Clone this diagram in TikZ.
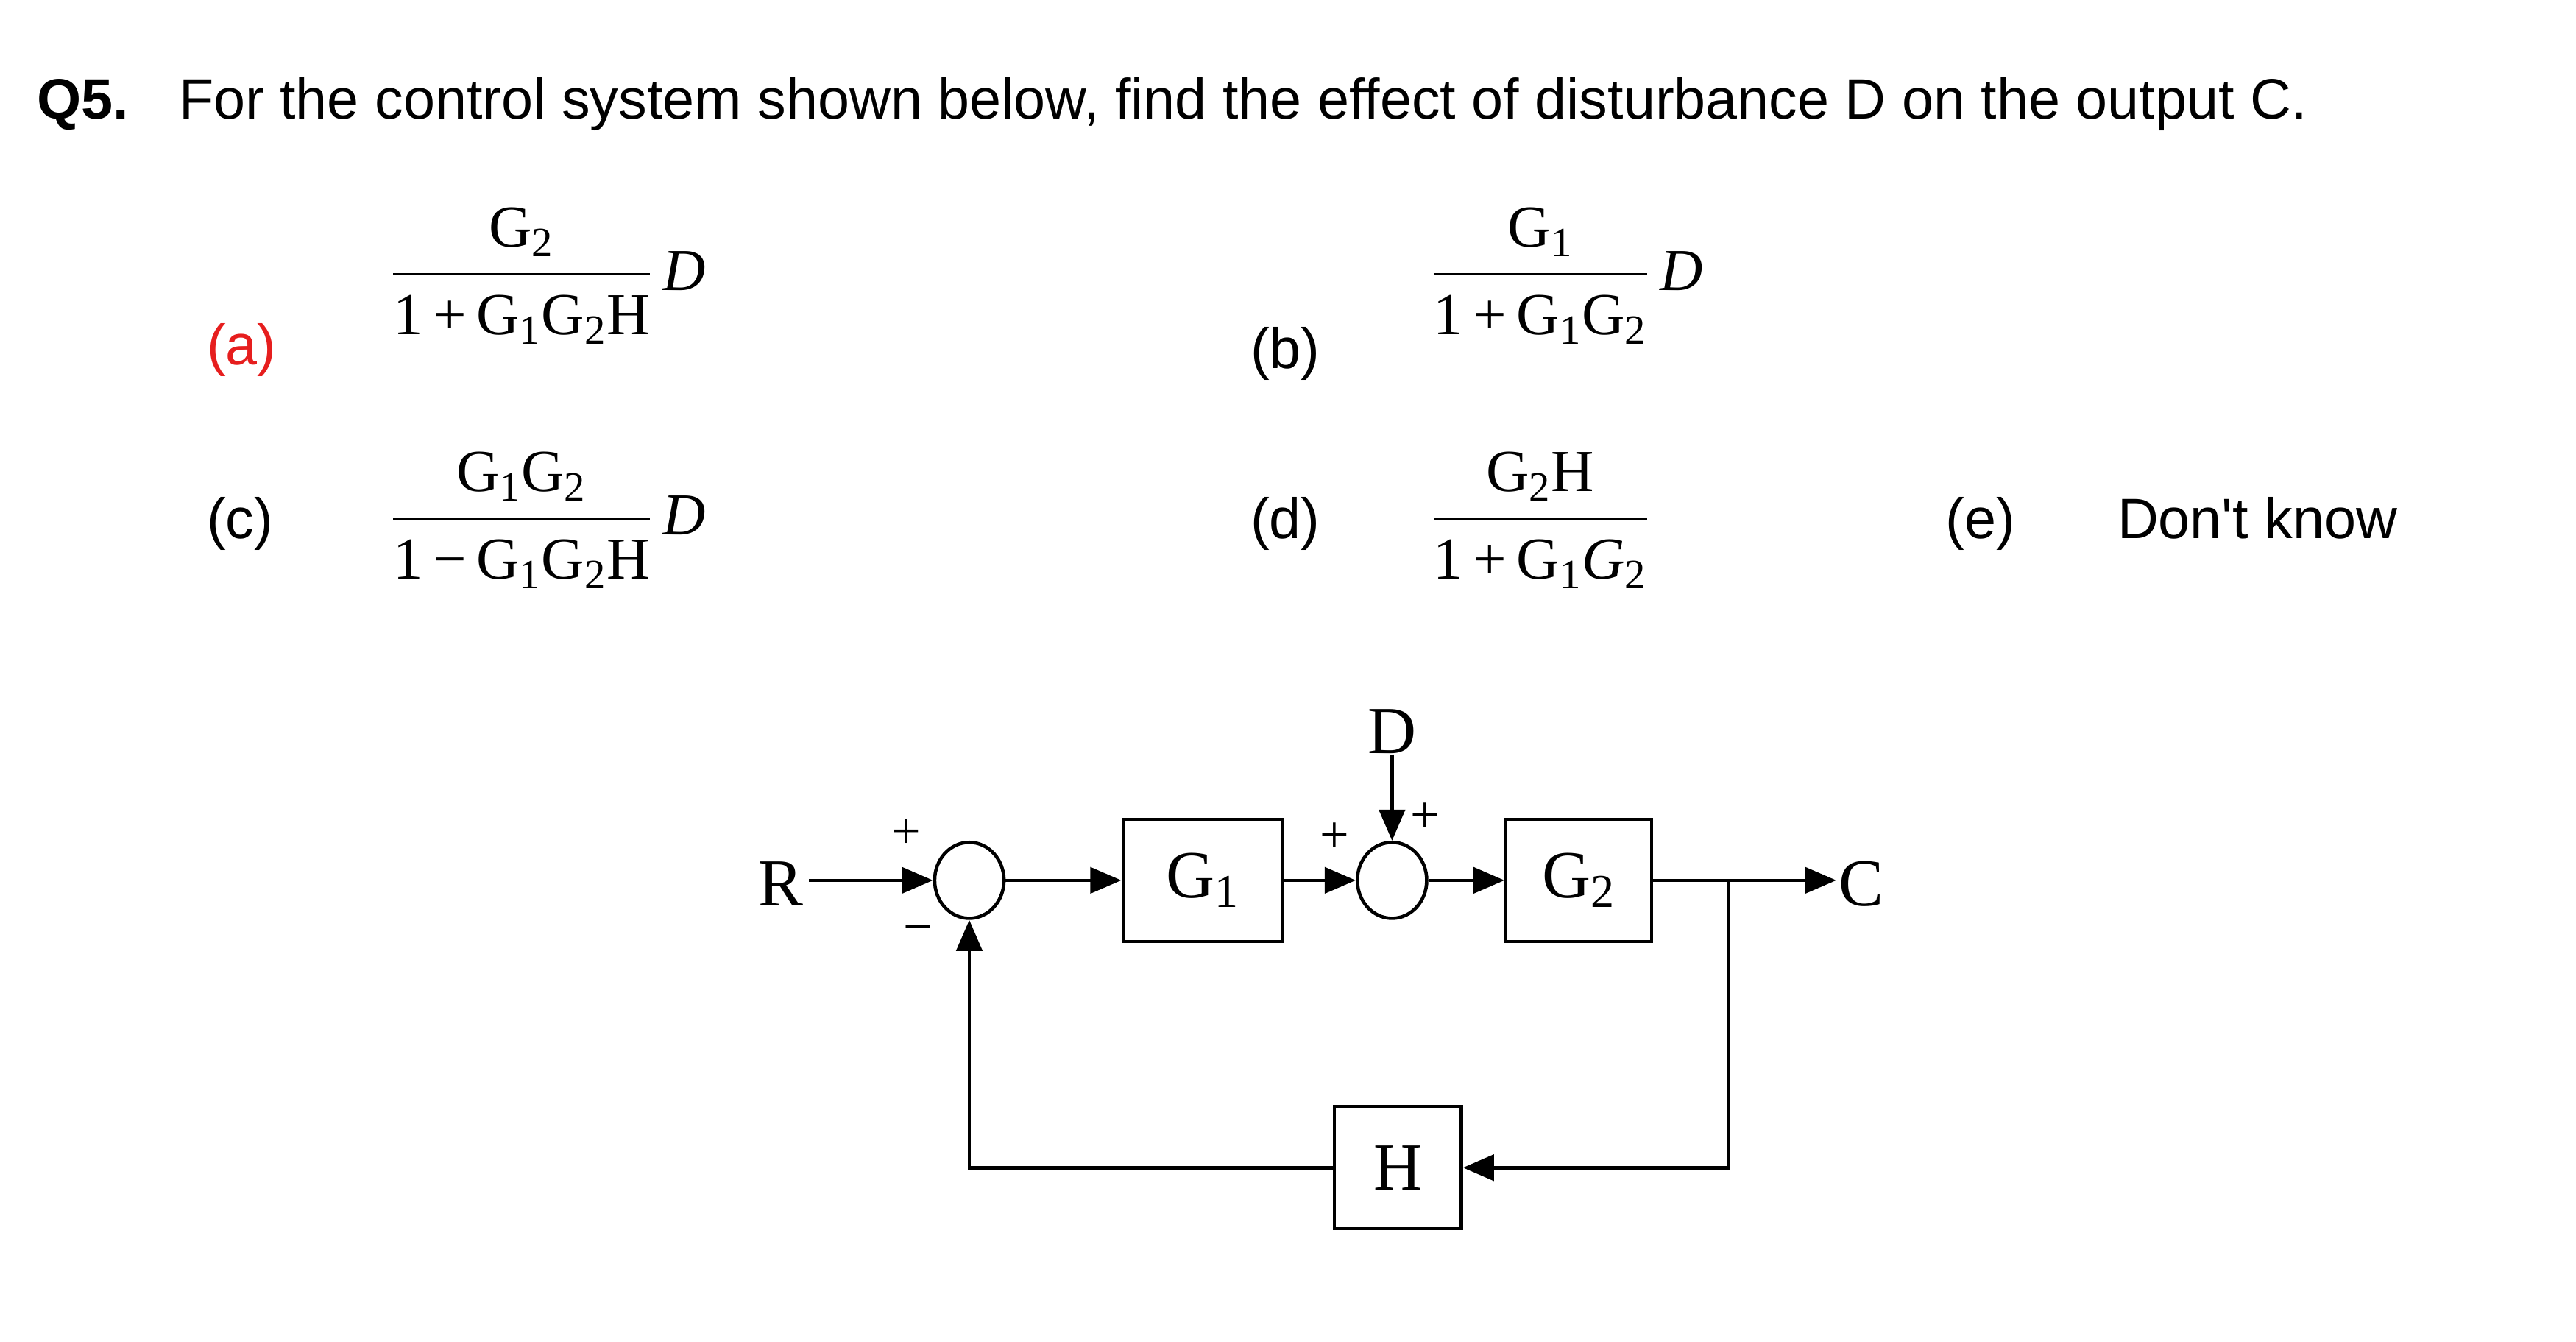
\documentclass[tikz,border=0pt]{standalone}
\usepackage{amsmath}
\usepackage{fontspec}
\setmainfont{Liberation Serif}
\newfontfamily\arialf{Liberation Sans}
\usetikzlibrary{arrows.meta,shapes.geometric}
\definecolor{ansred}{RGB}{230,30,30}
\begin{document}
\begin{tikzpicture}[x=0.022436cm,y=-0.022436cm,
  q/.style={font=\arialf\fontsize{22}{26}\selectfont, inner sep=0, anchor=base west},
  fr/.style={font=\fontsize{23}{27}\selectfont, inner sep=0},
  blk/.style={draw, line width=1.2pt, minimum width=#1, inner sep=0},
  sumc/.style={draw, line width=1.3pt, ellipse, minimum width=42*0.022436cm, minimum height=46*0.022436cm, inner sep=0},
  lab/.style={font=\fontsize{26}{29}\selectfont, inner sep=0},
  sg/.style={font=\fontsize{20}{23}\selectfont, inner sep=0},
  ar/.style={line width=1.3pt, -{Triangle[length=12pt,width=10pt]}},
  ln/.style={line width=1.3pt}]
\useasboundingbox (0,0) rectangle (1560,812.5);
\node[q] (qn) at (22,72) {\textbf{Q5.}};
\node[q] (qt) at (108,72) {For the control system shown below, find the effect of disturbance D on the output C.};
% options
\node[q, text=ansred] (la) at (125,221) {(a)};
\node[fr, anchor=west] (fa) at (236,167) {$\dfrac{\text{G\textsubscript{2}}}{\text{1\,+\,G\textsubscript{1}G\textsubscript{2}H}}$\,\textit{D}};
\node[q] (lb) at (757,223) {(b)};
\node[fr, anchor=west] (fb) at (866,167) {$\dfrac{\text{G\textsubscript{1}}}{\text{1\,+\,G\textsubscript{1}G\textsubscript{2}}}$\,\textit{D}};
\node[q] (lc) at (125,326) {(c)};
\node[fr, anchor=west] (fc) at (236,315) {$\dfrac{\text{G\textsubscript{1}G\textsubscript{2}}}{\text{1\,\textminus\,G\textsubscript{1}G\textsubscript{2}H}}$\,\textit{D}};
\node[q] (ld) at (757,326) {(d)};
\node[fr, anchor=west] (fd) at (866,315) {$\dfrac{\text{G\textsubscript{2}H}}{\text{1\,+\,G\textsubscript{1}\textit{G}\textsubscript{2}}}$};
\node[q] (le) at (1178,326) {(e)};
\node[q] (lf) at (1282,326) {Don't know};
% diagram
\node[lab] (R) at (473,535) {R};
\node[sumc] (s1) at (587,533) {};
\node[blk=97*0.022436cm, minimum height=74*0.022436cm, lab] (G1) at (728.5,533) {G\textsubscript{1}};
\node[sumc] (s2) at (843,533) {};
\node[blk=88*0.022436cm, minimum height=74*0.022436cm, lab] (G2) at (956,533) {G\textsubscript{2}};
\node[blk=77*0.022436cm, minimum height=74*0.022436cm, lab] (H) at (846.5,707) {H};
\node[lab] (C) at (1127,535) {C};
\node[lab] (D) at (843,443) {D};
\coordinate (br) at (1047,533);
\coordinate (fbr) at (1047,707);
\coordinate (fbl) at (587,707);
\coordinate (rs) at (490,533);
\coordinate (ce) at (1112,533);
\draw[ar] (rs) -- (s1.west);
\draw[ar] (s1.east) -- (G1.west);
\draw[ar] (G1.east) -- (s2.west);
\draw[ar] (s2.east) -- (G2.west);
\draw[ar] (G2.east) -- (ce);
\draw[ar] (D.south) -- (s2.north);
\draw[ar] (br) -- (fbr) -- (H.east);
\draw[ar] (H.west) -- (fbl) -- (s1.south);
\node[sg] (p1) at (549,505) {+};
\node[sg] (m1) at (556,566) {\textminus};
\node[sg] (p2) at (808,507) {+};
\node[sg] (p3) at (863,495) {+};
\end{tikzpicture}
\end{document}
